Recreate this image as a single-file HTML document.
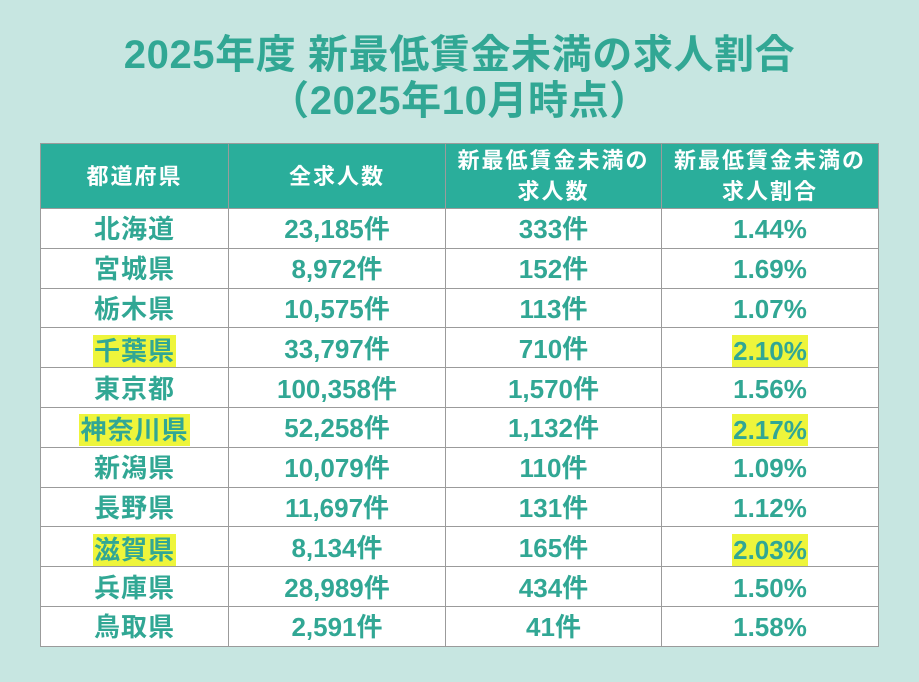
<!DOCTYPE html>
<html lang="ja">
<head>
<meta charset="utf-8">
<style>
  html, body { margin:0; padding:0; }
  body {
    width:919px; height:682px; overflow:hidden;
    background:#c7e6e1;
    font-family:"Liberation Sans","Noto Sans CJK JP",sans-serif;
    position:relative;
  }
  .title {
    position:absolute; left:0; top:32px; width:919px;
    text-align:center; color:#31a794;
    font-weight:bold; font-size:40px; line-height:46px; letter-spacing:0.6px;
    white-space:nowrap;
  }
  table {
    position:absolute; left:40px; top:143px;
    width:838px; border-collapse:collapse; table-layout:fixed;
  }
  td, th {
    border:1.5px solid #9b9b9b;
    text-align:center; vertical-align:middle; padding:0;
    font-weight:bold;
  }
  th {
    background:#2aae9b; color:#fff; font-size:22px; letter-spacing:2px;
    line-height:31px; height:64px;
  }
  td {
    background:#fff; color:#31a794; font-size:26px; height:36.8px; line-height:36px;
    padding-top:2px;
  }
  td.n { letter-spacing:1px; }
  .hl { background:#eef53b; display:inline-block; height:32px; line-height:32px; padding:0 1px; vertical-align:middle; }
</style>
</head>
<body>
<div class="title">2025年度 新最低賃金未満の求人割合<br>（2025年10月時点）</div>
<table>
  <colgroup>
    <col style="width:188px"><col style="width:217px"><col style="width:216px"><col style="width:217px">
  </colgroup>
  <tr><th>都道府県</th><th>全求人数</th><th>新最低賃金未満の<br>求人数</th><th>新最低賃金未満の<br>求人割合</th></tr>
  <tr><td class="n">北海道</td><td>23,185件</td><td>333件</td><td>1.44%</td></tr>
  <tr><td class="n">宮城県</td><td>8,972件</td><td>152件</td><td>1.69%</td></tr>
  <tr><td class="n">栃木県</td><td>10,575件</td><td>113件</td><td>1.07%</td></tr>
  <tr><td class="n"><span class="hl">千葉県</span></td><td>33,797件</td><td>710件</td><td><span class="hl">2.10%</span></td></tr>
  <tr><td class="n">東京都</td><td>100,358件</td><td>1,570件</td><td>1.56%</td></tr>
  <tr><td class="n"><span class="hl">神奈川県</span></td><td>52,258件</td><td>1,132件</td><td><span class="hl">2.17%</span></td></tr>
  <tr><td class="n">新潟県</td><td>10,079件</td><td>110件</td><td>1.09%</td></tr>
  <tr><td class="n">長野県</td><td>11,697件</td><td>131件</td><td>1.12%</td></tr>
  <tr><td class="n"><span class="hl">滋賀県</span></td><td>8,134件</td><td>165件</td><td><span class="hl">2.03%</span></td></tr>
  <tr><td class="n">兵庫県</td><td>28,989件</td><td>434件</td><td>1.50%</td></tr>
  <tr><td class="n">鳥取県</td><td>2,591件</td><td>41件</td><td>1.58%</td></tr>
</table>
</body>
</html>
